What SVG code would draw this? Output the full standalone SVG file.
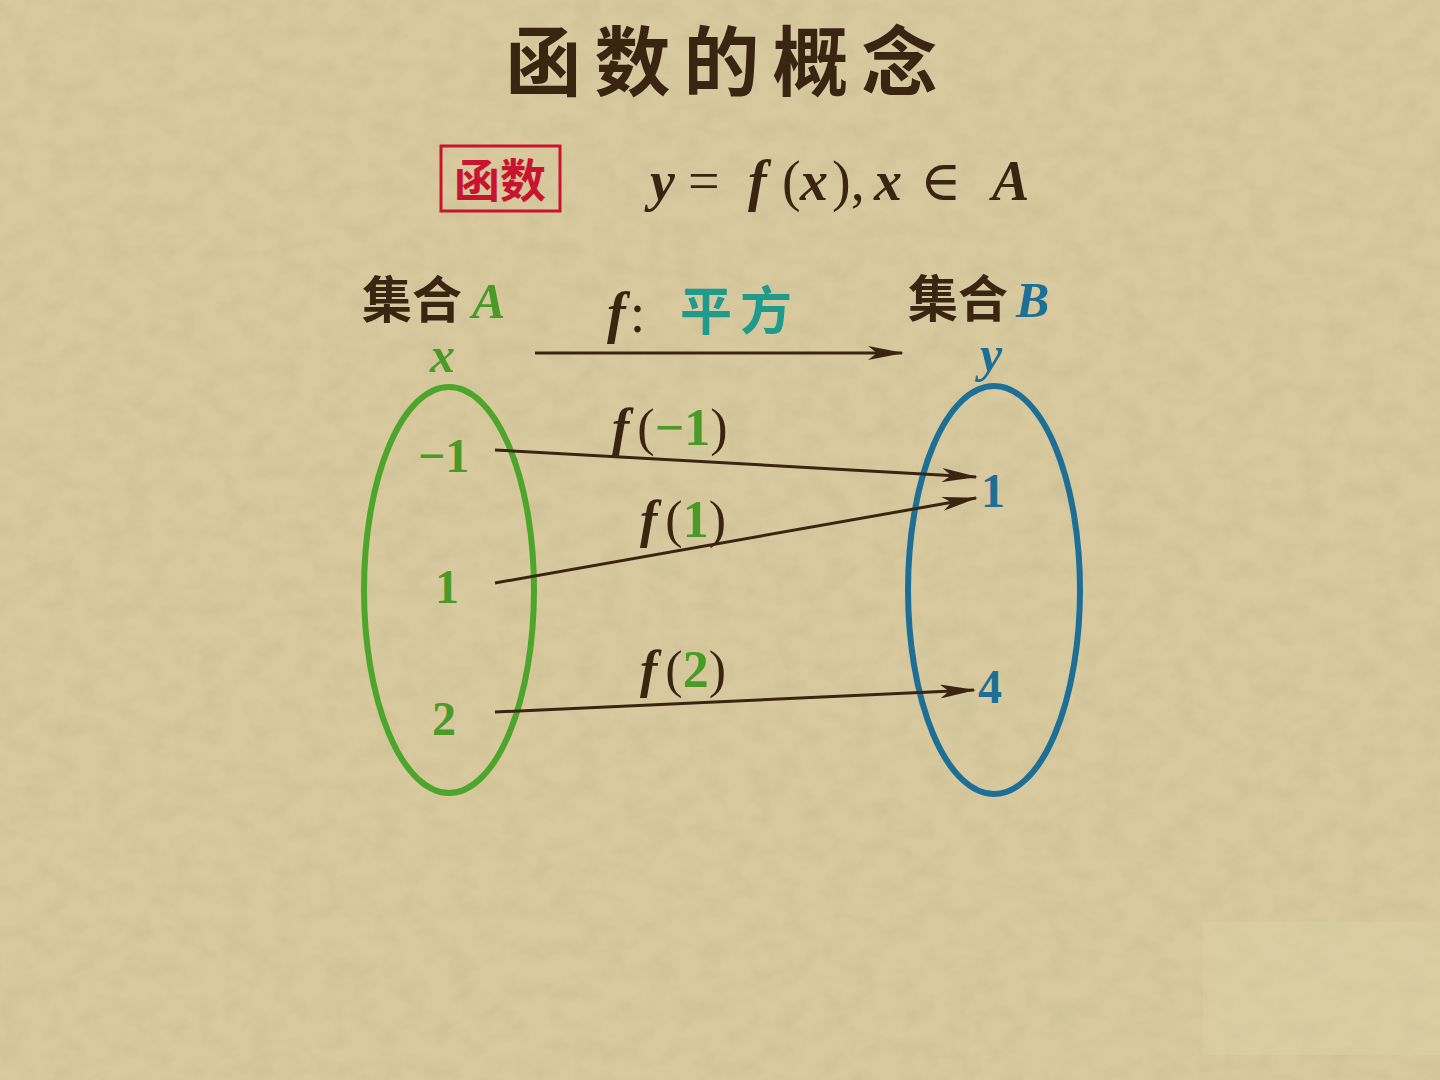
<svg xmlns="http://www.w3.org/2000/svg" width="1440" height="1080" viewBox="0 0 1440 1080">
<defs>
<filter id="paper" x="0" y="0" width="100%" height="100%">
<feTurbulence type="fractalNoise" baseFrequency="0.04 0.05" numOctaves="4" seed="7" result="n"/>
<feColorMatrix type="matrix" values="0 0 0 0 0.45  0 0 0 0 0.38  0 0 0 0 0.22  0 0 0 -1.8 1.1"/>
</filter>
<marker id="ah" viewBox="0 0 36 14" refX="34" refY="7" markerWidth="36" markerHeight="14" markerUnits="userSpaceOnUse" orient="auto">
<path d="M0,0 L36,7 L0,14 L9,7 Z" fill="#3a2412"/>
</marker>
<style>
.cn{font-family:"Noto Sans CJK SC","Noto Sans CJK TC",sans-serif;font-weight:700}
.m{font-family:"Liberation Serif","DejaVu Serif",serif;font-style:italic;font-weight:700}
.n{font-family:"Liberation Serif","DejaVu Serif",serif;font-weight:700}
.p{font-family:"Liberation Serif","DejaVu Serif",serif;font-weight:400}
.dk{fill:#3a2412}
.gr{fill:#4a9a28}
.bl{fill:#1d6f96}
.tl{fill:#1f9a8c}
.rd{fill:#c8142e}
.conn{stroke:#3a2412;stroke-width:3;fill:none;marker-end:url(#ah)}
</style>
</defs>
<rect x="0" y="0" width="1440" height="1080" fill="#d8ca9e"/>
<rect x="0" y="0" width="1440" height="1080" filter="url(#paper)" opacity="0.22"/>
<rect x="1203" y="922" width="237" height="133" fill="#e0d4ab" opacity="0.35"/>

<g id="title">
<text class="cn dk" x="728" y="90" font-size="76" text-anchor="middle" letter-spacing="13">函数的概念</text>
</g>

<g id="definition">
<rect x="441" y="146" width="119" height="65" fill="none" stroke="#c8142e" stroke-width="3"/>
<text class="cn rd" x="500" y="197" font-size="46" text-anchor="middle">函数</text>
<text font-size="56" class="dk" y="200"><tspan class="m" x="650">y</tspan><tspan class="p" x="688">=</tspan><tspan class="m" x="748">f</tspan><tspan class="p" x="782">(</tspan><tspan class="m" x="800">x</tspan><tspan class="p" x="832">),</tspan><tspan class="m" x="874">x</tspan><tspan class="p" x="920">∈</tspan><tspan class="m" x="992">A</tspan></text>
</g>

<g id="setA">
<text x="362" y="318" font-size="50"><tspan class="cn dk">集合</tspan><tspan class="m gr" dx="10">A</tspan></text>
<text class="m gr" x="430" y="372" font-size="50">x</text>
<ellipse cx="449" cy="590" rx="85" ry="203" fill="none" stroke="#4da52c" stroke-width="6"/>
<text class="n gr" x="418" y="472" font-size="48">−1</text>
<text class="n gr" x="435" y="603" font-size="48">1</text>
<text class="n gr" x="432" y="735" font-size="48">2</text>
</g>

<g id="setB">
<text x="908" y="317" font-size="50"><tspan class="cn dk">集合</tspan><tspan class="m bl" dx="8">B</tspan></text>
<text class="m bl" x="980" y="371" font-size="50">y</text>
<ellipse cx="994" cy="590" rx="86" ry="204" fill="none" stroke="#1d6f96" stroke-width="6"/>
<text class="n bl" x="981" y="507" font-size="48">1</text>
<text class="n bl" x="978" y="703" font-size="48">4</text>
</g>

<g id="rule">
<text x="607" y="332" font-size="56"><tspan class="m dk">f</tspan><tspan class="p dk" dx="4">:</tspan></text>
<text class="cn tl" x="680" y="330" font-size="52" letter-spacing="8">平方</text>
</g>

<g id="connectors">
<line class="conn" x1="535" y1="353" x2="902" y2="353"/>
<line class="conn" x1="495" y1="450" x2="976" y2="477"/>
<line class="conn" x1="495" y1="583" x2="976" y2="498"/>
<line class="conn" x1="495" y1="712" x2="974" y2="690"/>
</g>

<g id="labels">
<text x="612" y="445" font-size="52"><tspan class="m dk">f</tspan><tspan class="p dk" dx="8">(</tspan><tspan class="n gr">−1</tspan><tspan class="p dk">)</tspan></text>
<text x="640" y="537" font-size="52"><tspan class="m dk">f</tspan><tspan class="p dk" dx="8">(</tspan><tspan class="n gr">1</tspan><tspan class="p dk">)</tspan></text>
<text x="640" y="687" font-size="52"><tspan class="m dk">f</tspan><tspan class="p dk" dx="8">(</tspan><tspan class="n gr">2</tspan><tspan class="p dk">)</tspan></text>
</g>
</svg>
